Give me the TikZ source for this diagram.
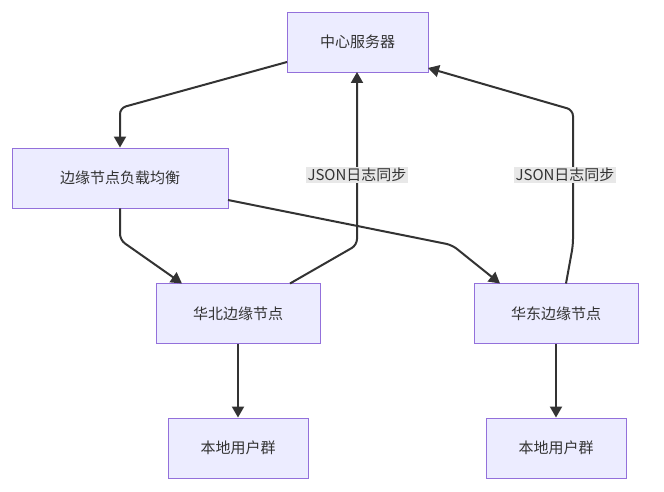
\documentclass[tikz,border=0pt]{standalone}
\usepackage{fontspec}
\setmainfont{Noto Sans CJK SC}
\usetikzlibrary{arrows.meta}
\definecolor{nfill}{HTML}{ECECFF}
\definecolor{nline}{HTML}{9370DB}
\definecolor{ecol}{HTML}{333333}
\definecolor{lbg}{HTML}{E8E8E8}
\begin{document}
\begin{tikzpicture}[x=1pt,y=-1pt,
  box/.style={draw=nline,fill=nfill,line width=0.9pt,minimum height=60pt,inner sep=0pt,font=\fontsize{15}{18}\selectfont,text=ecol},
  edge/.style={draw=ecol,line width=2pt,rounded corners=6pt,-{Triangle[length=11pt,width=12pt]}},
  lbl/.style={fill=lbg,inner sep=1.5pt,font=\fontsize{15}{18}\selectfont,text=ecol}]
\useasboundingbox (0,0) rectangle (664,492);
\node[box,minimum width=141pt] (c) at (357.5,42) {中心服务器};
\node[box,minimum width=216pt] (lb) at (120,178) {边缘节点负载均衡};
\node[box,minimum width=164pt] (n) at (238,313.5) {华北边缘节点};
\node[box,minimum width=164pt] (e) at (556,313.5) {华东边缘节点};
\node[box,minimum width=140pt] (u1) at (238,448) {本地用户群};
\node[box,minimum width=140pt] (u2) at (556,448) {本地用户群};
\coordinate (cw) at (287,62);
\coordinate (ce) at (428,68);
\coordinate (nt) at (182,283.5);
\coordinate (nt2) at (290,283.5);
\coordinate (et) at (500,283.5);
\coordinate (et2) at (566,283.5);
\coordinate (cs) at (357,72);
\draw[edge] (cw) -- (120,108) -- (lb.north);
\draw[edge] (lb.south) -- (120,240) -- (nt);
\draw[edge] (228,200) -- (452,245) -- (et);
\draw[edge] (nt2) -- (357,245) -- (cs);
\draw[edge] (et2) -- (573,245) -- (573,110) -- (ce);
\node[lbl] (l1) at (357,175) {JSON日志同步};
\node[lbl] (l2) at (565,175) {JSON日志同步};
\draw[edge] (n.south) -- (u1.north);
\draw[edge] (e.south) -- (u2.north);
\end{tikzpicture}
\end{document}
